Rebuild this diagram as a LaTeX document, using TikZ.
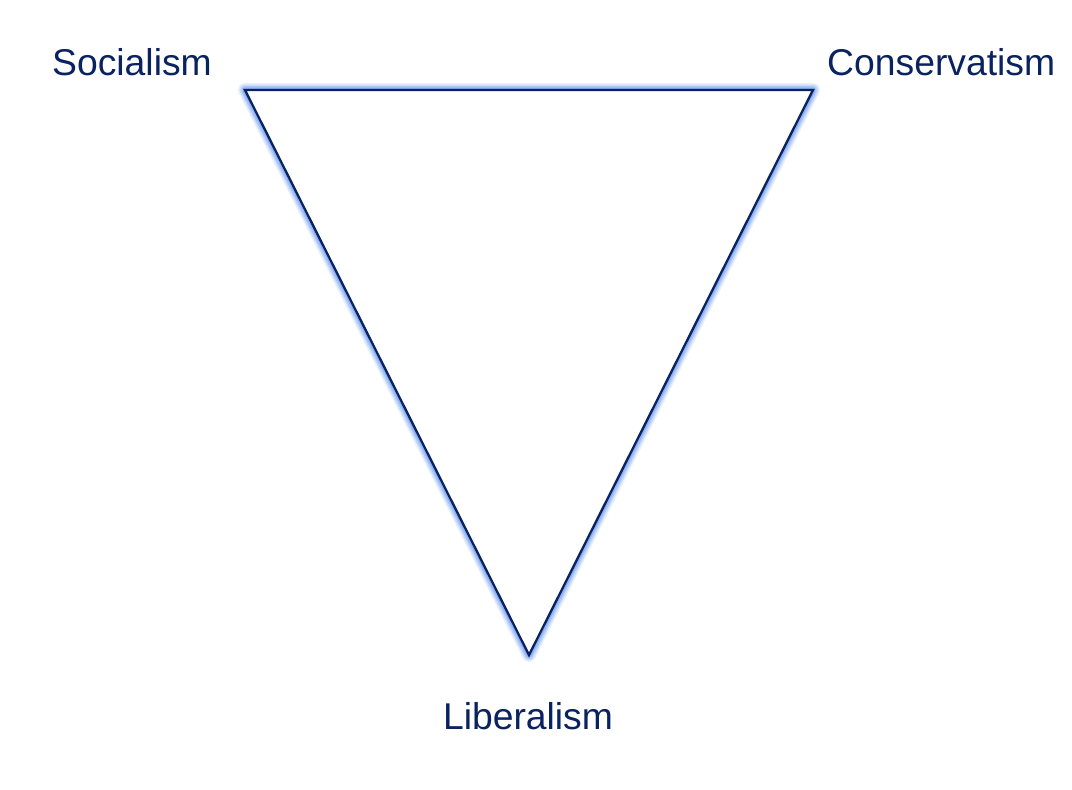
\documentclass[tikz,border=0pt]{standalone}
\usepackage{fontspec}
\setmainfont{Liberation Sans}
\definecolor{navy}{HTML}{0A2260}
\definecolor{glow}{HTML}{6E9BF0}
\begin{document}
\begin{tikzpicture}[x=1pt,y=-1pt,
  lbl/.style={inner sep=0pt,text=navy,font=\fontsize{37.3}{40}\selectfont},
  edge/.style={draw=navy,line width=2.3pt,line join=miter}]
\useasboundingbox (0,0) rectangle (1072,790);
\coordinate (TL) at (245,90);
\coordinate (TR) at (813,90);
\coordinate (BT) at (529,655);
% glow
\foreach \w/\o in {14/0.15,11/0.25,8/0.35,5/0.5}{
  \draw[glow,line width=\w pt,opacity=\o,line join=round] (TL) -- (TR) -- (BT) -- cycle;
}
\fill[white] (TL) -- (TR) -- (BT) -- cycle;
\draw[edge] (TL) -- (TR) -- (BT) -- cycle;
\node[lbl,anchor=base west] (soc) at (52,75) {Socialism};
\node[lbl,anchor=base west] (con) at (827,75) {Conservatism};
\node[lbl,anchor=base] (lib) at (528,729) {Liberalism};
\end{tikzpicture}
\end{document}
